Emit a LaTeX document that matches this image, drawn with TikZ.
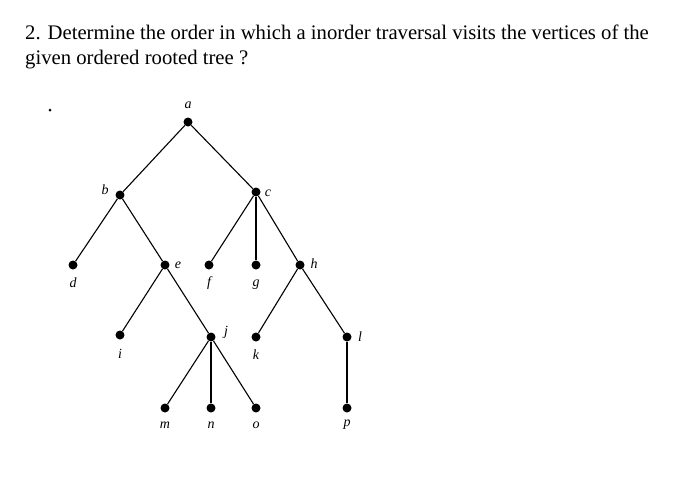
\documentclass[tikz,border=0pt]{standalone}
\usepackage{fontspec}
\setmainfont{Liberation Serif}
\begin{document}
\begin{tikzpicture}[x=1pt,y=-1pt,
  vx/.style={circle,fill=black,inner sep=0pt,minimum size=9pt},
  lb/.style={font=\fontsize{14}{14}\selectfont\itshape,inner sep=1pt},
  ed/.style={line width=1.1pt}]
\useasboundingbox (0,0) rectangle (678,488);
\node[anchor=west,align=left,font=\fontsize{20.7}{25}\selectfont,inner sep=0pt] (title) at (25,47)
 {2. Determine the order in which a inorder traversal visits the vertices of the\\given ordered rooted tree ?};
\node[circle,fill=black,inner sep=0pt,minimum size=3pt] (dot) at (50,110) {};
\foreach \n/\x/\y in {a/188/122,b/120/195,c/256/192,d/73/265,e/165/265,f/209/265,g/256/265,h/300/265,i/120/335,j/211/337,k/256/337,l/347/337,m/165/408,n/211/408,o/256/408,p/347/408}
  \node[vx] (\n) at (\x,\y) {};
\foreach \u/\v in {a/b,a/c,b/d,b/e,c/f,c/g,c/h,e/i,e/j,h/k,h/l,j/m,j/n,j/o,l/p}
  \draw[ed] (\u) -- (\v);
\node[lb] (la) at (188,105) {a};
\node[lb] (lb) at (105,190) {b};
\node[lb] (lc) at (268,193) {c};
\node[lb] (ld) at (73,283) {d};
\node[lb] (le) at (178,265) {e};
\node[lb] (lf) at (209,283) {f};
\node[lb] (lg) at (256,285) {g};
\node[lb] (lh) at (314,264) {h};
\node[lb] (li) at (120,354) {i};
\node[lb] (lj) at (226,332) {j};
\node[lb] (lk) at (256,355) {k};
\node[lb] (ll) at (360,337) {l};
\node[lb] (lm) at (165,425) {m};
\node[lb] (ln) at (211,425) {n};
\node[lb] (lo) at (256,425) {o};
\node[lb] (lp) at (347,425) {p};
\end{tikzpicture}
\end{document}
